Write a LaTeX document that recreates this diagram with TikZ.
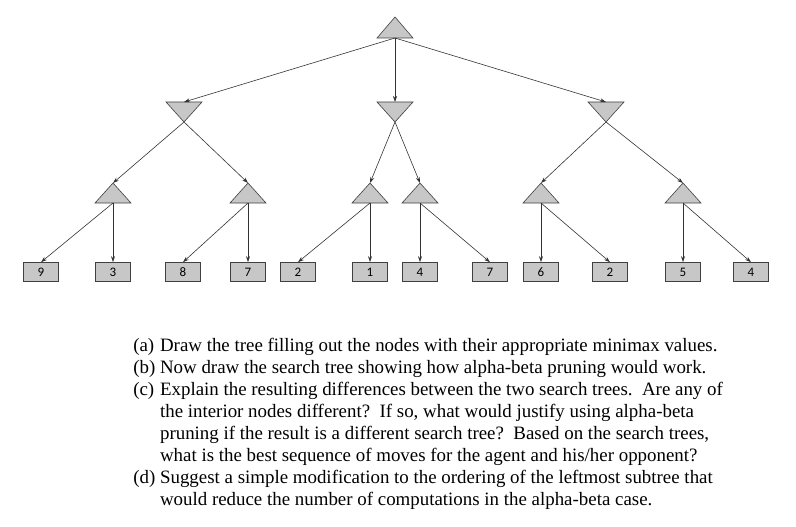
\documentclass[tikz,border=0pt]{standalone}
\usepackage{fontspec}
\setmainfont{Liberation Serif}
\newfontfamily\leaffont{Carlito}
\usetikzlibrary{arrows.meta}
\tikzset{every picture/.style={line width=0.6pt}}
\tikzset{
  tri/.style={draw=black!75, fill=black!22},
  leaf/.style={draw=black!75, fill=black!22, minimum width=35pt, minimum height=19pt, inner sep=0pt, font=\leaffont\fontsize{13}{13}\selectfont},
  edge/.style={draw=black!80, -{Stealth[length=6pt,width=4pt]}}
}

\begin{document}
\begin{tikzpicture}[x=1pt,y=1pt,yscale=-1,xscale=1]
\useasboundingbox (0,0) rectangle (796,527);

%Shape: root triangle
\draw [tri] (377,38) -- (395,17) -- (413,38) -- cycle ;
\coordinate (root) at (395,38);

%Shape: min triangles
\foreach \x/\n in {184/ma,395/mb,606/mc}{
  \draw [tri] (\x-18,102) -- (\x+18,102) -- (\x,122) -- cycle ;
  \coordinate (\n) at (\x,122);
  \coordinate (\n-t) at (\x,102);
}

%Shape: max triangles
\foreach \x/\n in {113/xa,248/xb,370/xc,420/xd,541/xe,683/xf}{
  \draw [tri] (\x-18,203) -- (\x,183) -- (\x+18,203) -- cycle ;
  \coordinate (\n) at (\x,203);
  \coordinate (\n-t) at (\x,183);
}

%Shape: leaves
\foreach \x/\v/\n in {41/9/la,113/3/lb,183/8/lc,248/7/ld,298/2/le,370/1/lf,420/4/lg,490/7/lh,541/6/li,610/2/lj,683/5/lk,751/4/ll}{
  \node [leaf] (\n) at (\x,272) {\v};
}

% connectors
\draw [edge] (root) -- (ma-t);
\draw [edge] (root) -- (mb-t);
\draw [edge] (root) -- (mc-t);
\draw [edge] (ma) -- (xa-t);
\draw [edge] (ma) -- (xb-t);
\draw [edge] (mb) -- (xc-t);
\draw [edge] (mb) -- (xd-t);
\draw [edge] (mc) -- (xe-t);
\draw [edge] (mc) -- (xf-t);
\draw [edge] (xa) -- (la.north);
\draw [edge] (xa) -- (lb.north);
\draw [edge] (xb) -- (lc.north);
\draw [edge] (xb) -- (ld.north);
\draw [edge] (xc) -- (le.north);
\draw [edge] (xc) -- (lf.north);
\draw [edge] (xd) -- (lg.north);
\draw [edge] (xd) -- (lh.north);
\draw [edge] (xe) -- (li.north);
\draw [edge] (xe) -- (lj.north);
\draw [edge] (xf) -- (lk.north);
\draw [edge] (xf) -- (ll.north);

% Text Node
\node (q) [anchor=north west, inner sep=0pt, font=\fontsize{18.9}{22}\selectfont] at (133,336) {%
\begin{tabular}{@{}l@{\ }l@{}}
(a) & Draw the tree filling out the nodes with their appropriate minimax values.\\
(b) & Now draw the search tree showing how alpha-beta pruning would work.\\
(c) & Explain the resulting differences between the two search trees.\ \ Are any of\\
    & the interior nodes different?\ \ If so, what would justify using alpha-beta\\
    & pruning if the result is a different search tree?\ \ Based on the search trees,\\
    & what is the best sequence of moves for the agent and his/her opponent?\\
(d) & Suggest a simple modification to the ordering of the leftmost subtree that\\
    & would reduce the number of computations in the alpha-beta case.
\end{tabular}};

\end{tikzpicture}
\end{document}
